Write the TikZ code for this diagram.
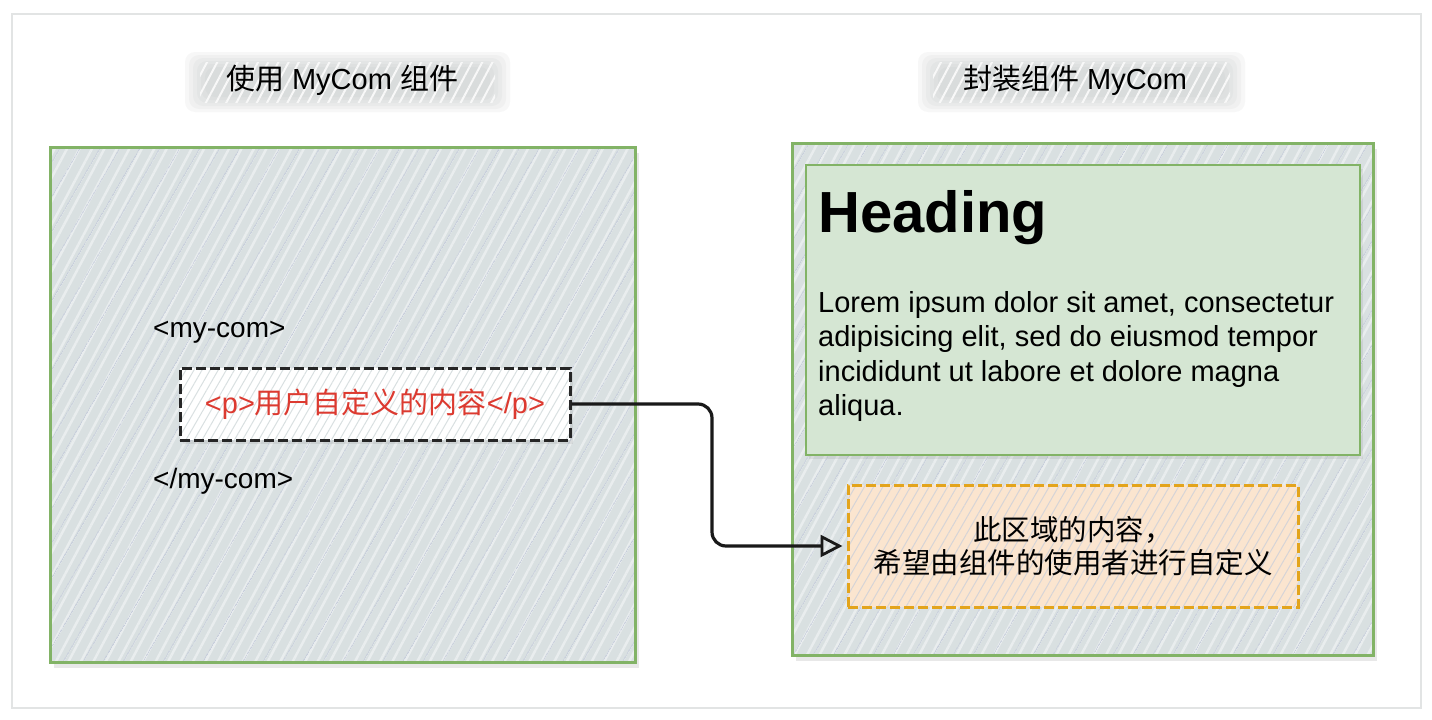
\documentclass[tikz,border=0pt]{standalone}
\usepackage{fontspec}
\setmainfont{Liberation Sans}
\newfontfamily\cjk{Noto Sans CJK SC}
\usetikzlibrary{arrows.meta,patterns.meta,shadows,fit}
\definecolor{grn}{HTML}{82B366}
\definecolor{boxbg}{HTML}{D9E0E1}
\definecolor{hatchw}{HTML}{E9EDEE}
\definecolor{hatchb}{HTML}{C6CDDB}
\definecolor{innerbg}{HTML}{D5E6D3}
\definecolor{orgbg}{HTML}{FBE5CF}
\definecolor{orgline}{HTML}{E3A41C}
\definecolor{redtxt}{HTML}{DC3A30}
\definecolor{framec}{HTML}{E2E4E4}
\definecolor{blobc}{HTML}{B8BEBE}
\begin{document}
\begin{tikzpicture}[x=1pt,y=-1pt,
  frame/.style={inner sep=0, draw=framec, line width=1.5pt, fill=white},
  bigbox/.style={inner sep=0, draw=grn, line width=3pt,
    drop shadow={shadow xshift=4pt, shadow yshift=-6pt, opacity=0.18, fill=gray},
    preaction={fill=boxbg},
    preaction={pattern={Lines[angle=62,distance=11pt,line width=2.5pt]}, pattern color=hatchw},
    preaction={pattern={Lines[angle=60,distance=17pt,line width=0.8pt]}, pattern color=hatchb}},
  innerbox/.style={inner sep=0, draw=grn, line width=2.5pt, fill=innerbg,
    drop shadow={shadow xshift=3pt, shadow yshift=-4pt, opacity=0.15, fill=gray}},
  dashbox/.style={inner sep=0, draw=black!85, line width=3pt, dash pattern=on 10pt off 4pt,
    drop shadow={shadow xshift=3pt, shadow yshift=-4pt, opacity=0.15, fill=gray},
    preaction={fill=white},
    preaction={pattern={Lines[angle=60,distance=7pt,line width=1pt]}, pattern color=boxbg}},
  orgbox/.style={inner sep=0, draw=orgline, line width=3pt, dash pattern=on 10pt off 4pt,
    preaction={fill=orgbg},
    preaction={pattern={Lines[angle=60,distance=8pt,line width=1pt]}, pattern color=hatchb!70!orgbg}},
  txt/.style={inner sep=0, font=\fontsize{29}{34.5}\selectfont},
  arrowline/.style={draw=black!90, line width=3.2pt, rounded corners=14pt,
    -{Triangle[open,length=22pt,width=22pt,line width=2.8pt]}}
]
\useasboundingbox (0,0) rectangle (1432,720);
\fill[white] (0,0) rectangle (1432,720);
\node[frame, fit={(12,14) (1421,708)}] (frame) {};

% title blobs
\foreach \i in {0,...,5} {
  \fill[blobc, opacity=0.11, rounded corners=10pt] (185+\i*4,52+\i*3) rectangle (510-\i*4,112-\i*3);
  \fill[blobc, opacity=0.11, rounded corners=10pt] (918+\i*4,52+\i*3) rectangle (1245-\i*4,112-\i*3);
}
\path[pattern={Lines[angle=62,distance=9pt,line width=2pt]}, pattern color=white!90!blobc] (200,62) rectangle (495,102);
\path[pattern={Lines[angle=62,distance=9pt,line width=2pt]}, pattern color=white!90!blobc] (933,62) rectangle (1230,102);
\node[txt] (ltitle) at (342,80) {{\cjk 使用} MyCom {\cjk 组件}};
\node[txt] (rtitle) at (1075,80) {{\cjk 封装组件} MyCom};

% big boxes
\node[bigbox, fit={(50,147) (635,662)}] (lbox) {};
\node[bigbox, fit={(792,143) (1373,655)}] (rbox) {};
\node[innerbox, fit={(806,165) (1360,455)}] (inner) {};

% left content
\node[txt, anchor=base west, font=\fontsize{28}{33}\selectfont] (open) at (153,337) {<my-com>};
\node[txt, anchor=base west, font=\fontsize{28}{33}\selectfont] (close) at (153,488) {</my-com>};
\node[dashbox, fit={(180,368) (570,440)}] (dbox) {};
\node[txt, text=redtxt] (dtext) at (dbox.center) {<p>{\cjk 用户自定义的内容}</p>};

% right content
\node[inner sep=0, anchor=base west, font=\bfseries\fontsize{58}{60}\selectfont] (heading) at (818,232) {Heading};
\node[txt, anchor=north west, align=left] (lorem) at (818,291) {Lorem ipsum dolor sit amet, consectetur\\adipisicing elit, sed do eiusmod tempor\\incididunt ut labore et dolore magna\\aliqua.};
\node[orgbox, fit={(848,485) (1298,607)}] (obox) {};
\node[txt, align=center, font=\cjk\fontsize{28.5}{33}\selectfont] (otext) at (obox.center) {此区域的内容，\\希望由组件的使用者进行自定义};

% connector
\coordinate (bend) at (712,0);
\draw[arrowline, shorten >=4pt] (dbox.east) -- (dbox.east -| bend) -- (bend |- obox.west) -- (obox.west);
\end{tikzpicture}
\end{document}
